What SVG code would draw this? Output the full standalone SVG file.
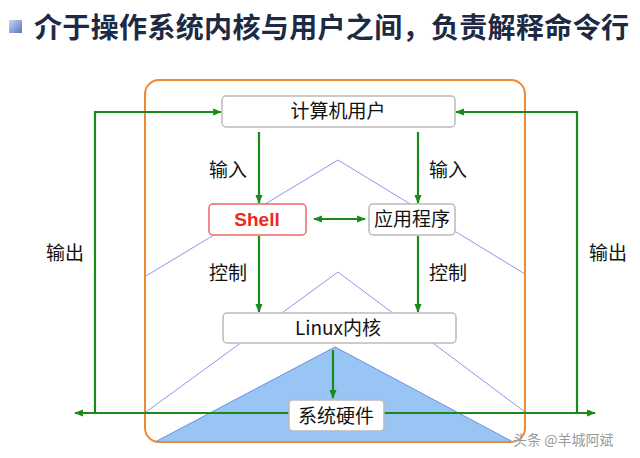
<svg xmlns="http://www.w3.org/2000/svg" width="640" height="458" viewBox="0 0 640 458">
<style>
text{font-family:"Noto Sans CJK SC","Liberation Sans",sans-serif;fill:#111}
.box{fill:#fff;stroke:#bbb;stroke-width:1.5}
.g{stroke:#1a8a1a;stroke-width:2.2;fill:none}
.lbl{font-size:19px;text-anchor:middle}
.chev{stroke:#8899ee;stroke-width:1;fill:none}
</style>
<defs>
<marker id="ah" viewBox="0 0 10 10" refX="9" refY="5" markerWidth="4" markerHeight="4" orient="auto-start-reverse"><path d="M0,1 L10,5 L0,9 z" fill="#1a8a1a"/></marker>
<linearGradient id="sq" x1="0" y1="0" x2="1" y2="1"><stop offset="0" stop-color="#c8d4f0"/><stop offset="1" stop-color="#5a78c0"/></linearGradient>
</defs>
<rect width="640" height="458" fill="#fff"/>
<rect x="9" y="20" width="13" height="13" fill="url(#sq)"/>
<text x="34" y="38" textLength="595" style="font-size:28px;font-weight:bold;fill:#1e2a44">介于操作系统内核与用户之间，负责解释命令行</text>
<polygon points="335,347 155,442 513,442" fill="#99c5f5" stroke="#6a8ee0" stroke-width="1"/>
<polyline class="chev" points="146,276 338,160 525,274"/>
<polyline class="chev" points="146,412 338,272 525,412"/>
<rect x="145" y="80" width="380" height="362" rx="14" fill="none" stroke="#ee8a33" stroke-width="2"/>
<g id="connectors">
<line class="g" x1="259" y1="132" x2="259" y2="203" marker-end="url(#ah)"/>
<line class="g" x1="418" y1="132" x2="418" y2="203" marker-end="url(#ah)"/>
<line class="g" x1="259" y1="236" x2="259" y2="312" marker-end="url(#ah)"/>
<line class="g" x1="418" y1="236" x2="418" y2="312" marker-end="url(#ah)"/>
<line class="g" x1="314" y1="219" x2="365" y2="219" marker-start="url(#ah)" marker-end="url(#ah)"/>
<line class="g" x1="333" y1="350" x2="333" y2="398" marker-end="url(#ah)"/>
<line class="g" x1="75" y1="413" x2="595" y2="413" marker-start="url(#ah)" marker-end="url(#ah)"/>
<polyline class="g" points="95,413 95,112 221,112" marker-end="url(#ah)"/>
<polyline class="g" points="577,413 577,112 456,112" marker-end="url(#ah)"/>
</g>
<g id="user"><rect class="box" x="222" y="96" width="233" height="31" rx="4"/><text class="lbl" x="338" y="118">计算机用户</text></g>
<g id="shell"><rect x="209" y="204" width="97" height="31" rx="4" fill="#fff" stroke="#ee6666" stroke-width="1.5"/><text class="lbl" x="257" y="226" style="fill:#ee2a1a;font-weight:bold;font-family:'Liberation Sans',sans-serif">Shell</text></g>
<g id="app"><rect class="box" x="369" y="204" width="86" height="31" rx="4"/><text class="lbl" x="412" y="226">应用程序</text></g>
<g id="kernel"><rect class="box" x="223" y="313" width="233" height="30" rx="4"/><text class="lbl" x="338" y="335">Linux内核</text></g>
<g id="hw"><rect class="box" x="289" y="400" width="95" height="31" rx="4"/><text class="lbl" x="336" y="423">系统硬件</text></g>
<text class="lbl" x="228" y="177">输入</text>
<text class="lbl" x="448" y="177">输入</text>
<text class="lbl" x="228" y="280">控制</text>
<text class="lbl" x="448" y="280">控制</text>
<text class="lbl" x="65" y="260">输出</text>
<text class="lbl" x="608" y="260">输出</text>
<text x="513" y="445" style="font-size:14px;fill:#999">头条 @羊城阿斌</text>
</svg>
